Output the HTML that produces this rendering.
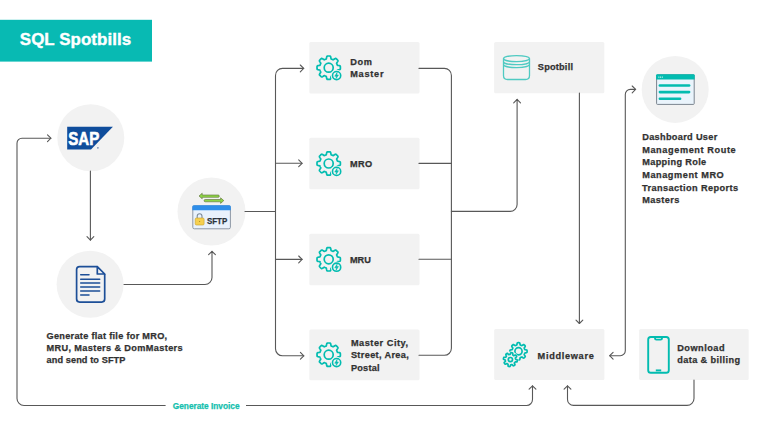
<!DOCTYPE html>
<html><head><meta charset="utf-8">
<style>
html,body{margin:0;padding:0;background:#fff;}
body{width:768px;height:422px;position:relative;overflow:hidden;font-family:"Liberation Sans",sans-serif;}
.t{position:absolute;font-weight:bold;color:#313131;font-size:10px;line-height:12.5px;white-space:nowrap;}
svg{position:absolute;left:0;top:0;}
</style></head><body>
<svg width="768" height="422" viewBox="0 0 768 422">
<rect x="0" y="19.8" width="152" height="41.8" fill="#08bab3"/>
<circle cx="90.8" cy="137.7" r="33.5" fill="#f2f2f2"/>
<circle cx="90.1" cy="284.3" r="33.5" fill="#f2f2f2"/>
<circle cx="211.5" cy="211.5" r="34" fill="#f2f2f2"/>
<circle cx="675.2" cy="89.4" r="33.5" fill="#f2f2f2"/>
<rect x="309.3" y="42" width="110.2" height="51.5" rx="1.5" fill="#f2f2f2"/>
<rect x="309.3" y="137.7" width="110.2" height="51.6" rx="1.5" fill="#f2f2f2"/>
<rect x="309.3" y="233.7" width="110.2" height="51.5" rx="1.5" fill="#f2f2f2"/>
<rect x="309.3" y="329.4" width="110.2" height="50.8" rx="1.5" fill="#f2f2f2"/>
<rect x="494.1" y="42" width="110.2" height="51.3" rx="1.5" fill="#f2f2f2"/>
<rect x="494.2" y="329.1" width="110.2" height="51" rx="1.5" fill="#f2f2f2"/>
<rect x="639.1" y="328.9" width="109.6" height="51" rx="1.5" fill="#f2f2f2"/>
<g fill="none" stroke="#585858" stroke-width="1.1" stroke-linecap="round" stroke-linejoin="round">
<path d="M532.5 385.8L532.50 399.50A6 6 0 0 1 526.50 405.50L24.00 405.50A7 7 0 0 1 17.00 398.50L17.00 143.20A5 5 0 0 1 22.00 138.20L50.9 138.2"/>
<path d="M47.50 134.80L50.90 138.20L47.50 141.60"/>
<path d="M529.10 389.20L532.50 385.80L535.90 389.20"/>
<path d="M90.4 171V240.1"/>
<path d="M87.00 236.70L90.40 240.10L93.80 236.70"/>
<path d="M124 284.5L205.00 284.50A7 7 0 0 0 212.00 277.50L212 251.3"/>
<path d="M208.60 254.70L212.00 251.30L215.40 254.70"/>
<path d="M245 211.5H275.5"/>
<path d="M303.7 68.4L282.50 68.40A7 7 0 0 0 275.50 75.40L275.50 348.80A7 7 0 0 0 282.50 355.80L303.8 355.8"/>
<path d="M300.30 65.00L303.70 68.40L300.30 71.80"/>
<path d="M300.40 352.40L303.80 355.80L300.40 359.20"/>
<path d="M275.5 163.3H302.1"/>
<path d="M298.70 159.90L302.10 163.30L298.70 166.70"/>
<path d="M275.5 259.4H302.1"/>
<path d="M298.70 256.00L302.10 259.40L298.70 262.80"/>
<path d="M419 68.4L444.40 68.40A7 7 0 0 1 451.40 75.40L451.40 348.30A7 7 0 0 1 444.40 355.30L419 355.3"/>
<path d="M419 163.4H451.4"/>
<path d="M419 259.3H451.4"/>
<path d="M451.4 211.4L510.10 211.40A7 7 0 0 0 517.10 204.40L517.1 99.4"/>
<path d="M513.70 102.80L517.10 99.40L520.50 102.80"/>
<path d="M579.4 93V323.5"/>
<path d="M576.00 320.10L579.40 323.50L582.80 320.10"/>
<path d="M635.6 89.4L630.30 89.40A5 5 0 0 0 625.30 94.40L625.30 350.70A5 5 0 0 1 620.30 355.70L609.7 355.7"/>
<path d="M632.20 86.00L635.60 89.40L632.20 92.80"/>
<path d="M613.10 352.30L609.70 355.70L613.10 359.10"/>
<path d="M694 380L694.00 398.40A7 7 0 0 1 687.00 405.40L573.50 405.40A6 6 0 0 1 567.50 399.40L567.5 385.8"/>
<path d="M564.10 389.20L567.50 385.80L570.90 389.20"/>
</g>
<rect x="165.6" y="400" width="80.4" height="11" fill="#fff"/>
<path d="M340.40 67.70L340.39 68.07L340.38 68.43L340.35 68.80L340.31 69.17L340.02 69.49L339.35 69.73L338.51 69.89L337.77 70.03L337.36 70.22L337.26 70.48L337.17 70.75L337.07 71.01L336.96 71.27L336.84 71.53L336.72 71.79L336.60 72.04L336.76 72.46L337.19 73.08L337.67 73.79L337.98 74.44L337.94 74.87L337.72 75.16L337.48 75.44L337.23 75.71L336.97 75.97L336.71 76.23L336.44 76.48L336.16 76.72L335.87 76.94L335.44 76.98L334.79 76.67L334.08 76.19L333.46 75.76L333.04 75.60L332.79 75.72L332.53 75.84L332.27 75.96L332.01 76.07L331.75 76.17L331.48 76.26L331.22 76.36L331.03 76.77L330.89 77.51L330.73 78.35L330.49 79.02L330.17 79.31L329.80 79.35L329.43 79.38L329.07 79.39L328.70 79.40L328.33 79.39L327.97 79.38L327.60 79.35L327.23 79.31L326.91 79.02L326.67 78.35L326.51 77.51L326.37 76.77L326.18 76.36L325.92 76.26L325.65 76.17L325.39 76.07L325.13 75.96L324.87 75.84L324.61 75.72L324.36 75.60L323.94 75.76L323.32 76.19L322.61 76.67L321.96 76.98L321.53 76.94L321.24 76.72L320.96 76.48L320.69 76.23L320.43 75.97L320.17 75.71L319.92 75.44L319.68 75.16L319.46 74.87L319.42 74.44L319.73 73.79L320.21 73.08L320.64 72.46L320.80 72.04L320.68 71.79L320.56 71.53L320.44 71.27L320.33 71.01L320.23 70.75L320.14 70.48L320.04 70.22L319.63 70.03L318.89 69.89L318.05 69.73L317.38 69.49L317.09 69.17L317.05 68.80L317.02 68.43L317.01 68.07L317.00 67.70L317.01 67.33L317.02 66.97L317.05 66.60L317.09 66.23L317.38 65.91L318.05 65.67L318.89 65.51L319.63 65.37L320.04 65.18L320.14 64.92L320.23 64.65L320.33 64.39L320.44 64.13L320.56 63.87L320.68 63.61L320.80 63.36L320.64 62.94L320.21 62.32L319.73 61.61L319.42 60.96L319.46 60.53L319.68 60.24L319.92 59.96L320.17 59.69L320.43 59.43L320.69 59.17L320.96 58.92L321.24 58.68L321.53 58.46L321.96 58.42L322.61 58.73L323.32 59.21L323.94 59.64L324.36 59.80L324.61 59.68L324.87 59.56L325.13 59.44L325.39 59.33L325.65 59.23L325.92 59.14L326.18 59.04L326.37 58.63L326.51 57.89L326.67 57.05L326.91 56.38L327.23 56.09L327.60 56.05L327.97 56.02L328.33 56.01L328.70 56.00L329.07 56.01L329.43 56.02L329.80 56.05L330.17 56.09L330.49 56.38L330.73 57.05L330.89 57.89L331.03 58.63L331.22 59.04L331.48 59.14L331.75 59.23L332.01 59.33L332.27 59.44L332.53 59.56L332.79 59.68L333.04 59.80L333.46 59.64L334.08 59.21L334.79 58.73L335.44 58.42L335.87 58.46L336.16 58.68L336.44 58.92L336.71 59.17L336.97 59.43L337.23 59.69L337.48 59.96L337.72 60.24L337.94 60.53L337.98 60.96L337.67 61.61L337.19 62.32L336.76 62.94L336.60 63.36L336.72 63.61L336.84 63.87L336.96 64.13L337.07 64.39L337.17 64.65L337.26 64.92L337.36 65.18L337.77 65.37L338.51 65.51L339.35 65.67L340.02 65.91L340.31 66.23L340.35 66.60L340.38 66.97L340.39 67.33Z" fill="none" stroke="#02bcb0" stroke-width="1.7" stroke-linejoin="round"/><circle cx="328.7" cy="67.7" r="4.5" fill="none" stroke="#02bcb0" stroke-width="1.7"/><circle cx="336.59999999999997" cy="75.60000000000001" r="5.8" fill="#f2f2f2"/><circle cx="336.59999999999997" cy="75.60000000000001" r="4.1" fill="none" stroke="#02bcb0" stroke-width="1.6"/><path d="M337.10 72.60L334.80 76.20H336.50L336.10 78.60L338.40 75.00H336.70Z" fill="#02bcb0" stroke="#02bcb0" stroke-width="0.6" stroke-linejoin="round"/>
<path d="M340.40 163.50L340.39 163.87L340.38 164.23L340.35 164.60L340.31 164.97L340.02 165.29L339.35 165.53L338.51 165.69L337.77 165.83L337.36 166.02L337.26 166.28L337.17 166.55L337.07 166.81L336.96 167.07L336.84 167.33L336.72 167.59L336.60 167.84L336.76 168.26L337.19 168.88L337.67 169.59L337.98 170.24L337.94 170.67L337.72 170.96L337.48 171.24L337.23 171.51L336.97 171.77L336.71 172.03L336.44 172.28L336.16 172.52L335.87 172.74L335.44 172.78L334.79 172.47L334.08 171.99L333.46 171.56L333.04 171.40L332.79 171.52L332.53 171.64L332.27 171.76L332.01 171.87L331.75 171.97L331.48 172.06L331.22 172.16L331.03 172.57L330.89 173.31L330.73 174.15L330.49 174.82L330.17 175.11L329.80 175.15L329.43 175.18L329.07 175.19L328.70 175.20L328.33 175.19L327.97 175.18L327.60 175.15L327.23 175.11L326.91 174.82L326.67 174.15L326.51 173.31L326.37 172.57L326.18 172.16L325.92 172.06L325.65 171.97L325.39 171.87L325.13 171.76L324.87 171.64L324.61 171.52L324.36 171.40L323.94 171.56L323.32 171.99L322.61 172.47L321.96 172.78L321.53 172.74L321.24 172.52L320.96 172.28L320.69 172.03L320.43 171.77L320.17 171.51L319.92 171.24L319.68 170.96L319.46 170.67L319.42 170.24L319.73 169.59L320.21 168.88L320.64 168.26L320.80 167.84L320.68 167.59L320.56 167.33L320.44 167.07L320.33 166.81L320.23 166.55L320.14 166.28L320.04 166.02L319.63 165.83L318.89 165.69L318.05 165.53L317.38 165.29L317.09 164.97L317.05 164.60L317.02 164.23L317.01 163.87L317.00 163.50L317.01 163.13L317.02 162.77L317.05 162.40L317.09 162.03L317.38 161.71L318.05 161.47L318.89 161.31L319.63 161.17L320.04 160.98L320.14 160.72L320.23 160.45L320.33 160.19L320.44 159.93L320.56 159.67L320.68 159.41L320.80 159.16L320.64 158.74L320.21 158.12L319.73 157.41L319.42 156.76L319.46 156.33L319.68 156.04L319.92 155.76L320.17 155.49L320.43 155.23L320.69 154.97L320.96 154.72L321.24 154.48L321.53 154.26L321.96 154.22L322.61 154.53L323.32 155.01L323.94 155.44L324.36 155.60L324.61 155.48L324.87 155.36L325.13 155.24L325.39 155.13L325.65 155.03L325.92 154.94L326.18 154.84L326.37 154.43L326.51 153.69L326.67 152.85L326.91 152.18L327.23 151.89L327.60 151.85L327.97 151.82L328.33 151.81L328.70 151.80L329.07 151.81L329.43 151.82L329.80 151.85L330.17 151.89L330.49 152.18L330.73 152.85L330.89 153.69L331.03 154.43L331.22 154.84L331.48 154.94L331.75 155.03L332.01 155.13L332.27 155.24L332.53 155.36L332.79 155.48L333.04 155.60L333.46 155.44L334.08 155.01L334.79 154.53L335.44 154.22L335.87 154.26L336.16 154.48L336.44 154.72L336.71 154.97L336.97 155.23L337.23 155.49L337.48 155.76L337.72 156.04L337.94 156.33L337.98 156.76L337.67 157.41L337.19 158.12L336.76 158.74L336.60 159.16L336.72 159.41L336.84 159.67L336.96 159.93L337.07 160.19L337.17 160.45L337.26 160.72L337.36 160.98L337.77 161.17L338.51 161.31L339.35 161.47L340.02 161.71L340.31 162.03L340.35 162.40L340.38 162.77L340.39 163.13Z" fill="none" stroke="#02bcb0" stroke-width="1.7" stroke-linejoin="round"/><circle cx="328.7" cy="163.5" r="4.5" fill="none" stroke="#02bcb0" stroke-width="1.7"/><circle cx="336.59999999999997" cy="171.4" r="5.8" fill="#f2f2f2"/><circle cx="336.59999999999997" cy="171.4" r="4.1" fill="none" stroke="#02bcb0" stroke-width="1.6"/><path d="M337.10 168.40L334.80 172.00H336.50L336.10 174.40L338.40 170.80H336.70Z" fill="#02bcb0" stroke="#02bcb0" stroke-width="0.6" stroke-linejoin="round"/>
<path d="M340.40 259.30L340.39 259.67L340.38 260.03L340.35 260.40L340.31 260.77L340.02 261.09L339.35 261.33L338.51 261.49L337.77 261.63L337.36 261.82L337.26 262.08L337.17 262.35L337.07 262.61L336.96 262.87L336.84 263.13L336.72 263.39L336.60 263.64L336.76 264.06L337.19 264.68L337.67 265.39L337.98 266.04L337.94 266.47L337.72 266.76L337.48 267.04L337.23 267.31L336.97 267.57L336.71 267.83L336.44 268.08L336.16 268.32L335.87 268.54L335.44 268.58L334.79 268.27L334.08 267.79L333.46 267.36L333.04 267.20L332.79 267.32L332.53 267.44L332.27 267.56L332.01 267.67L331.75 267.77L331.48 267.86L331.22 267.96L331.03 268.37L330.89 269.11L330.73 269.95L330.49 270.62L330.17 270.91L329.80 270.95L329.43 270.98L329.07 270.99L328.70 271.00L328.33 270.99L327.97 270.98L327.60 270.95L327.23 270.91L326.91 270.62L326.67 269.95L326.51 269.11L326.37 268.37L326.18 267.96L325.92 267.86L325.65 267.77L325.39 267.67L325.13 267.56L324.87 267.44L324.61 267.32L324.36 267.20L323.94 267.36L323.32 267.79L322.61 268.27L321.96 268.58L321.53 268.54L321.24 268.32L320.96 268.08L320.69 267.83L320.43 267.57L320.17 267.31L319.92 267.04L319.68 266.76L319.46 266.47L319.42 266.04L319.73 265.39L320.21 264.68L320.64 264.06L320.80 263.64L320.68 263.39L320.56 263.13L320.44 262.87L320.33 262.61L320.23 262.35L320.14 262.08L320.04 261.82L319.63 261.63L318.89 261.49L318.05 261.33L317.38 261.09L317.09 260.77L317.05 260.40L317.02 260.03L317.01 259.67L317.00 259.30L317.01 258.93L317.02 258.57L317.05 258.20L317.09 257.83L317.38 257.51L318.05 257.27L318.89 257.11L319.63 256.97L320.04 256.78L320.14 256.52L320.23 256.25L320.33 255.99L320.44 255.73L320.56 255.47L320.68 255.21L320.80 254.96L320.64 254.54L320.21 253.92L319.73 253.21L319.42 252.56L319.46 252.13L319.68 251.84L319.92 251.56L320.17 251.29L320.43 251.03L320.69 250.77L320.96 250.52L321.24 250.28L321.53 250.06L321.96 250.02L322.61 250.33L323.32 250.81L323.94 251.24L324.36 251.40L324.61 251.28L324.87 251.16L325.13 251.04L325.39 250.93L325.65 250.83L325.92 250.74L326.18 250.64L326.37 250.23L326.51 249.49L326.67 248.65L326.91 247.98L327.23 247.69L327.60 247.65L327.97 247.62L328.33 247.61L328.70 247.60L329.07 247.61L329.43 247.62L329.80 247.65L330.17 247.69L330.49 247.98L330.73 248.65L330.89 249.49L331.03 250.23L331.22 250.64L331.48 250.74L331.75 250.83L332.01 250.93L332.27 251.04L332.53 251.16L332.79 251.28L333.04 251.40L333.46 251.24L334.08 250.81L334.79 250.33L335.44 250.02L335.87 250.06L336.16 250.28L336.44 250.52L336.71 250.77L336.97 251.03L337.23 251.29L337.48 251.56L337.72 251.84L337.94 252.13L337.98 252.56L337.67 253.21L337.19 253.92L336.76 254.54L336.60 254.96L336.72 255.21L336.84 255.47L336.96 255.73L337.07 255.99L337.17 256.25L337.26 256.52L337.36 256.78L337.77 256.97L338.51 257.11L339.35 257.27L340.02 257.51L340.31 257.83L340.35 258.20L340.38 258.57L340.39 258.93Z" fill="none" stroke="#02bcb0" stroke-width="1.7" stroke-linejoin="round"/><circle cx="328.7" cy="259.3" r="4.5" fill="none" stroke="#02bcb0" stroke-width="1.7"/><circle cx="336.59999999999997" cy="267.2" r="5.8" fill="#f2f2f2"/><circle cx="336.59999999999997" cy="267.2" r="4.1" fill="none" stroke="#02bcb0" stroke-width="1.6"/><path d="M337.10 264.20L334.80 267.80H336.50L336.10 270.20L338.40 266.60H336.70Z" fill="#02bcb0" stroke="#02bcb0" stroke-width="0.6" stroke-linejoin="round"/>
<path d="M340.40 354.70L340.39 355.07L340.38 355.43L340.35 355.80L340.31 356.17L340.02 356.49L339.35 356.73L338.51 356.89L337.77 357.03L337.36 357.22L337.26 357.48L337.17 357.75L337.07 358.01L336.96 358.27L336.84 358.53L336.72 358.79L336.60 359.04L336.76 359.46L337.19 360.08L337.67 360.79L337.98 361.44L337.94 361.87L337.72 362.16L337.48 362.44L337.23 362.71L336.97 362.97L336.71 363.23L336.44 363.48L336.16 363.72L335.87 363.94L335.44 363.98L334.79 363.67L334.08 363.19L333.46 362.76L333.04 362.60L332.79 362.72L332.53 362.84L332.27 362.96L332.01 363.07L331.75 363.17L331.48 363.26L331.22 363.36L331.03 363.77L330.89 364.51L330.73 365.35L330.49 366.02L330.17 366.31L329.80 366.35L329.43 366.38L329.07 366.39L328.70 366.40L328.33 366.39L327.97 366.38L327.60 366.35L327.23 366.31L326.91 366.02L326.67 365.35L326.51 364.51L326.37 363.77L326.18 363.36L325.92 363.26L325.65 363.17L325.39 363.07L325.13 362.96L324.87 362.84L324.61 362.72L324.36 362.60L323.94 362.76L323.32 363.19L322.61 363.67L321.96 363.98L321.53 363.94L321.24 363.72L320.96 363.48L320.69 363.23L320.43 362.97L320.17 362.71L319.92 362.44L319.68 362.16L319.46 361.87L319.42 361.44L319.73 360.79L320.21 360.08L320.64 359.46L320.80 359.04L320.68 358.79L320.56 358.53L320.44 358.27L320.33 358.01L320.23 357.75L320.14 357.48L320.04 357.22L319.63 357.03L318.89 356.89L318.05 356.73L317.38 356.49L317.09 356.17L317.05 355.80L317.02 355.43L317.01 355.07L317.00 354.70L317.01 354.33L317.02 353.97L317.05 353.60L317.09 353.23L317.38 352.91L318.05 352.67L318.89 352.51L319.63 352.37L320.04 352.18L320.14 351.92L320.23 351.65L320.33 351.39L320.44 351.13L320.56 350.87L320.68 350.61L320.80 350.36L320.64 349.94L320.21 349.32L319.73 348.61L319.42 347.96L319.46 347.53L319.68 347.24L319.92 346.96L320.17 346.69L320.43 346.43L320.69 346.17L320.96 345.92L321.24 345.68L321.53 345.46L321.96 345.42L322.61 345.73L323.32 346.21L323.94 346.64L324.36 346.80L324.61 346.68L324.87 346.56L325.13 346.44L325.39 346.33L325.65 346.23L325.92 346.14L326.18 346.04L326.37 345.63L326.51 344.89L326.67 344.05L326.91 343.38L327.23 343.09L327.60 343.05L327.97 343.02L328.33 343.01L328.70 343.00L329.07 343.01L329.43 343.02L329.80 343.05L330.17 343.09L330.49 343.38L330.73 344.05L330.89 344.89L331.03 345.63L331.22 346.04L331.48 346.14L331.75 346.23L332.01 346.33L332.27 346.44L332.53 346.56L332.79 346.68L333.04 346.80L333.46 346.64L334.08 346.21L334.79 345.73L335.44 345.42L335.87 345.46L336.16 345.68L336.44 345.92L336.71 346.17L336.97 346.43L337.23 346.69L337.48 346.96L337.72 347.24L337.94 347.53L337.98 347.96L337.67 348.61L337.19 349.32L336.76 349.94L336.60 350.36L336.72 350.61L336.84 350.87L336.96 351.13L337.07 351.39L337.17 351.65L337.26 351.92L337.36 352.18L337.77 352.37L338.51 352.51L339.35 352.67L340.02 352.91L340.31 353.23L340.35 353.60L340.38 353.97L340.39 354.33Z" fill="none" stroke="#02bcb0" stroke-width="1.7" stroke-linejoin="round"/><circle cx="328.7" cy="354.7" r="4.5" fill="none" stroke="#02bcb0" stroke-width="1.7"/><circle cx="336.59999999999997" cy="362.59999999999997" r="5.8" fill="#f2f2f2"/><circle cx="336.59999999999997" cy="362.59999999999997" r="4.1" fill="none" stroke="#02bcb0" stroke-width="1.6"/><path d="M337.10 359.60L334.80 363.20H336.50L336.10 365.60L338.40 362.00H336.70Z" fill="#02bcb0" stroke="#02bcb0" stroke-width="0.6" stroke-linejoin="round"/>
<path d="M527.10 351.30L527.10 351.57L527.08 351.84L527.06 352.11L526.99 352.37L526.64 352.59L526.06 352.74L525.44 352.85L524.96 352.96L524.74 353.11L524.68 353.31L524.62 353.50L524.54 353.69L524.47 353.88L524.38 354.07L524.29 354.25L524.20 354.43L524.24 354.69L524.51 355.11L524.87 355.63L525.16 356.14L525.26 356.54L525.13 356.78L524.95 356.99L524.77 357.19L524.58 357.38L524.39 357.57L524.19 357.75L523.98 357.93L523.74 358.06L523.34 357.96L522.83 357.67L522.31 357.31L521.89 357.04L521.63 357.00L521.45 357.09L521.27 357.18L521.08 357.27L520.89 357.34L520.70 357.42L520.51 357.48L520.31 357.54L520.16 357.76L520.05 358.24L519.94 358.86L519.79 359.44L519.57 359.79L519.31 359.86L519.04 359.88L518.77 359.90L518.50 359.90L518.23 359.90L517.96 359.88L517.69 359.86L517.43 359.79L517.21 359.44L517.06 358.86L516.95 358.24L516.84 357.76L516.69 357.54L516.49 357.48L516.30 357.42L516.11 357.34L515.92 357.27L515.73 357.18L515.55 357.09L515.37 357.00L515.11 357.04L514.69 357.31L514.17 357.67L513.66 357.96L513.26 358.06L513.02 357.93L512.81 357.75L512.61 357.57L512.42 357.38L512.23 357.19L512.05 356.99L511.87 356.78L511.74 356.54L511.84 356.14L512.13 355.63L512.49 355.11L512.76 354.69L512.80 354.43L512.71 354.25L512.62 354.07L512.53 353.88L512.46 353.69L512.38 353.50L512.32 353.31L512.26 353.11L512.04 352.96L511.56 352.85L510.94 352.74L510.36 352.59L510.01 352.37L509.94 352.11L509.92 351.84L509.90 351.57L509.90 351.30L509.90 351.03L509.92 350.76L509.94 350.49L510.01 350.23L510.36 350.01L510.94 349.86L511.56 349.75L512.04 349.64L512.26 349.49L512.32 349.29L512.38 349.10L512.46 348.91L512.53 348.72L512.62 348.53L512.71 348.35L512.80 348.17L512.76 347.91L512.49 347.49L512.13 346.97L511.84 346.46L511.74 346.06L511.87 345.82L512.05 345.61L512.23 345.41L512.42 345.22L512.61 345.03L512.81 344.85L513.02 344.67L513.26 344.54L513.66 344.64L514.17 344.93L514.69 345.29L515.11 345.56L515.37 345.60L515.55 345.51L515.73 345.42L515.92 345.33L516.11 345.26L516.30 345.18L516.49 345.12L516.69 345.06L516.84 344.84L516.95 344.36L517.06 343.74L517.21 343.16L517.43 342.81L517.69 342.74L517.96 342.72L518.23 342.70L518.50 342.70L518.77 342.70L519.04 342.72L519.31 342.74L519.57 342.81L519.79 343.16L519.94 343.74L520.05 344.36L520.16 344.84L520.31 345.06L520.51 345.12L520.70 345.18L520.89 345.26L521.08 345.33L521.27 345.42L521.45 345.51L521.63 345.60L521.89 345.56L522.31 345.29L522.83 344.93L523.34 344.64L523.74 344.54L523.98 344.67L524.19 344.85L524.39 345.03L524.58 345.22L524.77 345.41L524.95 345.61L525.13 345.82L525.26 346.06L525.16 346.46L524.87 346.97L524.51 347.49L524.24 347.91L524.20 348.17L524.29 348.35L524.38 348.53L524.47 348.72L524.54 348.91L524.62 349.10L524.68 349.29L524.74 349.49L524.96 349.64L525.44 349.75L526.06 349.86L526.64 350.01L526.99 350.23L527.06 350.49L527.08 350.76L527.10 351.03Z" fill="none" stroke="#02bcb0" stroke-width="1.7" stroke-linejoin="round"/>
<circle cx="518.5" cy="351.3" r="3.6" fill="none" stroke="#02bcb0" stroke-width="1.7"/>
<circle cx="510.4" cy="359.6" r="8.2" fill="#f2f2f2"/>
<path d="M516.44 359.60L516.93 359.81L517.28 360.03L517.37 360.26L517.34 360.48L517.31 360.70L517.28 360.91L517.23 361.13L517.18 361.34L517.12 361.55L517.05 361.76L516.81 361.91L516.36 361.96L515.82 361.94L515.34 361.92L515.05 361.97L514.96 362.11L514.88 362.25L514.79 362.39L514.70 362.52L514.61 362.66L514.51 362.79L514.41 362.91L514.34 363.08L514.46 363.41L514.67 363.87L514.87 364.36L514.96 364.77L514.86 364.99L514.69 365.13L514.51 365.26L514.33 365.39L514.15 365.51L513.96 365.63L513.77 365.73L513.58 365.83L513.30 365.77L512.95 365.48L512.57 365.09L512.25 364.74L512.01 364.56L511.85 364.59L511.69 364.64L511.53 364.67L511.37 364.71L511.21 364.74L511.05 364.76L510.89 364.78L510.73 364.85L510.57 365.16L510.40 365.64L510.19 366.13L509.97 366.48L509.74 366.57L509.52 366.54L509.30 366.51L509.09 366.48L508.87 366.43L508.66 366.38L508.45 366.32L508.24 366.25L508.09 366.01L508.04 365.56L508.06 365.02L508.08 364.54L508.03 364.25L507.89 364.16L507.75 364.08L507.61 363.99L507.48 363.90L507.34 363.81L507.21 363.71L507.09 363.61L506.92 363.54L506.59 363.66L506.13 363.87L505.64 364.07L505.23 364.16L505.01 364.06L504.87 363.89L504.74 363.71L504.61 363.53L504.49 363.35L504.37 363.16L504.27 362.97L504.17 362.78L504.23 362.50L504.52 362.15L504.91 361.77L505.26 361.45L505.44 361.21L505.41 361.05L505.36 360.89L505.33 360.73L505.29 360.57L505.26 360.41L505.24 360.25L505.22 360.09L505.15 359.93L504.84 359.77L504.36 359.60L503.87 359.39L503.52 359.17L503.43 358.94L503.46 358.72L503.49 358.50L503.52 358.29L503.57 358.07L503.62 357.86L503.68 357.65L503.75 357.44L503.99 357.29L504.44 357.24L504.98 357.26L505.46 357.28L505.75 357.23L505.84 357.09L505.92 356.95L506.01 356.81L506.10 356.68L506.19 356.54L506.29 356.41L506.39 356.29L506.46 356.12L506.34 355.79L506.13 355.33L505.93 354.84L505.84 354.43L505.94 354.21L506.11 354.07L506.29 353.94L506.47 353.81L506.65 353.69L506.84 353.57L507.03 353.47L507.22 353.37L507.50 353.43L507.85 353.72L508.23 354.11L508.55 354.46L508.79 354.64L508.95 354.61L509.11 354.56L509.27 354.53L509.43 354.49L509.59 354.46L509.75 354.44L509.91 354.42L510.07 354.35L510.23 354.04L510.40 353.56L510.61 353.07L510.83 352.72L511.06 352.63L511.28 352.66L511.50 352.69L511.71 352.72L511.93 352.77L512.14 352.82L512.35 352.88L512.56 352.95L512.71 353.19L512.76 353.64L512.74 354.18L512.72 354.66L512.77 354.95L512.91 355.04L513.05 355.12L513.19 355.21L513.32 355.30L513.46 355.39L513.59 355.49L513.71 355.59L513.88 355.66L514.21 355.54L514.67 355.33L515.16 355.13L515.57 355.04L515.79 355.14L515.93 355.31L516.06 355.49L516.19 355.67L516.31 355.85L516.43 356.04L516.53 356.23L516.63 356.42L516.57 356.70L516.28 357.05L515.89 357.43L515.54 357.75L515.36 357.99L515.39 358.15L515.44 358.31L515.47 358.47L515.51 358.63L515.54 358.79L515.56 358.95L515.58 359.11L515.65 359.27L515.96 359.43Z" fill="none" stroke="#02bcb0" stroke-width="1.7" stroke-linejoin="round"/>
<circle cx="510.4" cy="359.6" r="2.1" fill="none" stroke="#02bcb0" stroke-width="1.7"/>
<g fill="none" stroke="#4fcac2" stroke-width="1.3"><ellipse cx="516.5" cy="58.6" rx="13" ry="3"/><path d="M503.5 58.6V75.5Q503.5 79.5 507.5 79.5H525.5Q529.5 79.5 529.5 75.5V58.6"/><path d="M503.5 61.7A13 3 0 0 0 529.5 61.7"/><path d="M503.5 64.6A13 3 0 0 0 529.5 64.6"/></g>
<g fill="none" stroke="#02bcb0" stroke-width="1.9"><rect x="648.2" y="337" width="20.6" height="35.8" rx="2.6"/><path d="M655 337.2V338.2Q655 339.6 656.4 339.6H660.6Q662 339.6 662 338.2V337.2"/><path d="M655.8 370.4H661.2"/></g>
<g><rect x="656.6" y="74.8" width="37.6" height="29.6" rx="0.8" fill="#eaf4fc" stroke="#7a848e" stroke-width="1"/><path d="M656.1 79.6V75.3Q656.1 74.3 657.1 74.3H693.7Q694.7 74.3 694.7 75.3V79.6Z" fill="#02bcb0"/><circle cx="658.9" cy="77.1" r="0.6" fill="#fff"/><circle cx="660.6" cy="77.1" r="0.6" fill="#fff"/><circle cx="662.3" cy="77.1" r="0.6" fill="#fff"/><rect x="658.6" y="84.2" width="31.8" height="2.6" rx="1.3" fill="#02bcb0"/><rect x="658.6" y="90.8" width="31.8" height="2.6" rx="1.3" fill="#02bcb0"/><rect x="658.6" y="97.4" width="22.8" height="2.6" rx="1.3" fill="#02bcb0"/></g>
<g fill="none" stroke="#1d4f98" stroke-width="1.7" stroke-linejoin="round"><path d="M97.3 266.6H79.6Q76.6 266.6 76.6 269.6V299.1Q76.6 302.1 79.6 302.1H101.7Q104.7 302.1 104.7 299.1V274"/><path d="M97.3 266.6L104.7 274H97.3Z"/><path d="M80.7 274.8H89M80.7 279.2H99.7M80.7 283.1H99.7M80.7 287H99.7M80.7 291.1H99.7M80.7 295H89" stroke-width="1.5" stroke-linecap="round"/></g>
<g><path d="M67.2 126.8H112.9L91 149.4H67.2Z" fill="#0f4d9c"/><text x="68.2" y="145.2" font-family="Liberation Sans" font-weight="bold" font-size="18" fill="#fff" stroke="#fff" stroke-width="0.6" stroke-linejoin="round" textLength="31" lengthAdjust="spacingAndGlyphs">SAP</text><circle cx="97.9" cy="147.8" r="0.9" fill="#7a8fb5"/></g>
<g><rect x="192.8" y="205.8" width="37.6" height="23" rx="1.5" fill="#e9f2fc" stroke="#8d98a5" stroke-width="1"/><path d="M192.3 210.2V206.8Q192.3 205.3 193.8 205.3H229.3Q230.8 205.3 230.8 206.8V210.2Z" fill="#2f8ee9"/><text x="206.9" y="223.7" font-family="Liberation Sans" font-weight="bold" font-size="8.8" fill="#2b323a" stroke="#2b323a" stroke-width="0.25" textLength="20.3" lengthAdjust="spacingAndGlyphs">SFTP</text><path d="M197.2 218.5V216.3Q197.2 213.7 199.6 213.7Q202 213.7 202 216.3V218.5" fill="none" stroke="#7d8b99" stroke-width="1.1"/><rect x="195.2" y="218" width="8.9" height="7" rx="1.2" fill="#f6d04f" stroke="#c79f2a" stroke-width="0.6"/><circle cx="199.6" cy="221.5" r="0.6" fill="#a88420"/><path d="M199 196L202.2 193.2V195H218.2Q219.3 195 219.3 196.15Q219.3 197.3 218.2 197.3H202.2V198.8Z" fill="#8ed545" stroke="#5b6b35" stroke-width="0.6" stroke-linejoin="round"/><path d="M223.8 200.6L220.6 197.8V199.5H205.2Q204.1 199.5 204.1 200.65Q204.1 201.8 205.2 201.8H220.6V203.4Z" fill="#8ed545" stroke="#5b6b35" stroke-width="0.6" stroke-linejoin="round"/></g>
</svg>
<svg width="768" height="422" viewBox="0 0 768 422"><g font-family="Liberation Sans" font-weight="bold"><text x="19.80" y="45.20" font-size="16.9" fill="#fff" stroke="#fff" stroke-width="0.4" letter-spacing="0.079">SQL Spotbills</text>
<text x="350.20" y="64.80" font-size="9.2" fill="#313131" stroke="#313131" stroke-width="0.25" letter-spacing="0.700">Dom</text>
<text x="350.20" y="77.20" font-size="9.2" fill="#313131" stroke="#313131" stroke-width="0.25" letter-spacing="0.740">Master</text>
<text x="350.00" y="166.80" font-size="9.2" fill="#313131" stroke="#313131" stroke-width="0.25" letter-spacing="0.300">MRO</text>
<text x="350.00" y="262.60" font-size="9.2" fill="#313131" stroke="#313131" stroke-width="0.25" letter-spacing="-0.050">MRU</text>
<text x="350.90" y="345.90" font-size="9.2" fill="#313131" stroke="#313131" stroke-width="0.25" letter-spacing="0.531">Master City,</text>
<text x="350.90" y="358.20" font-size="9.2" fill="#313131" stroke="#313131" stroke-width="0.25" letter-spacing="0.344">Street, Area,</text>
<text x="350.90" y="370.90" font-size="9.2" fill="#313131" stroke="#313131" stroke-width="0.25" letter-spacing="0.220">Postal</text>
<text x="537.80" y="70.40" font-size="9.2" fill="#313131" stroke="#313131" stroke-width="0.25" letter-spacing="0.210">Spotbill</text>
<text x="537.60" y="358.60" font-size="9.2" fill="#313131" stroke="#313131" stroke-width="0.25" letter-spacing="0.680">Middleware</text>
<text x="677.20" y="350.90" font-size="9.2" fill="#313131" stroke="#313131" stroke-width="0.25" letter-spacing="0.496">Download</text>
<text x="677.20" y="363.20" font-size="9.2" fill="#313131" stroke="#313131" stroke-width="0.25" letter-spacing="0.396">data &amp; billing</text>
<text x="642.20" y="139.90" font-size="9.2" fill="#313131" stroke="#313131" stroke-width="0.25" letter-spacing="0.316">Dashboard User</text>
<text x="642.20" y="152.50" font-size="9.2" fill="#313131" stroke="#313131" stroke-width="0.25" letter-spacing="0.584">Management Route</text>
<text x="642.20" y="165.10" font-size="9.2" fill="#313131" stroke="#313131" stroke-width="0.25" letter-spacing="0.341">Mapping Role</text>
<text x="642.20" y="177.90" font-size="9.2" fill="#313131" stroke="#313131" stroke-width="0.25" letter-spacing="0.545">Managment MRO</text>
<text x="641.90" y="190.50" font-size="9.2" fill="#313131" stroke="#313131" stroke-width="0.25" letter-spacing="0.409">Transaction Reports</text>
<text x="642.20" y="202.80" font-size="9.2" fill="#313131" stroke="#313131" stroke-width="0.25" letter-spacing="0.402">Masters</text>
<text x="46.50" y="338.60" font-size="9.2" fill="#313131" stroke="#313131" stroke-width="0.25" letter-spacing="0.282">Generate flat file for MRO,</text>
<text x="46.50" y="350.90" font-size="9.2" fill="#313131" stroke="#313131" stroke-width="0.25" letter-spacing="0.355">MRU, Masters &amp; DomMasters</text>
<text x="46.50" y="363.10" font-size="9.2" fill="#313131" stroke="#313131" stroke-width="0.25" letter-spacing="0.088">and send to SFTP</text>
<text x="172.80" y="408.50" font-size="8.3" fill="#14bfae" stroke="#14bfae" stroke-width="0.25" letter-spacing="-0.010">Generate Invoice</text></g></svg>
</body></html>
